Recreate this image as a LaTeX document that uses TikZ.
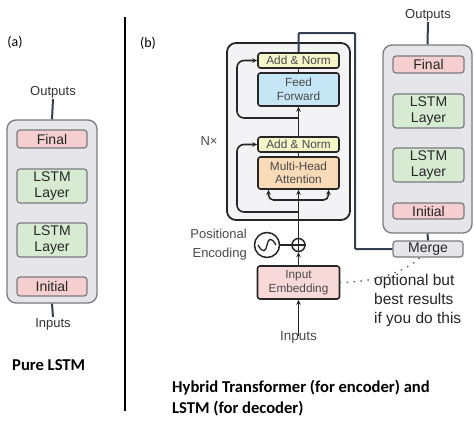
\documentclass[tikz,border=0pt]{standalone}
\usepackage{fontspec}
\setmainfont{Liberation Sans}
\newfontfamily\capfont{Carlito}
\usetikzlibrary{arrows.meta}
\definecolor{pinkf}{HTML}{F5CFCF}
\definecolor{greenf}{HTML}{D7EBD3}
\definecolor{grayf}{HTML}{E6E6EA}
\definecolor{grayb}{HTML}{7A7A80}
\definecolor{trf}{HTML}{F3F3F5}
\definecolor{yelf}{HTML}{F4F5C8}
\definecolor{bluef}{HTML}{C5E6F4}
\definecolor{orf}{HTML}{FADBB8}
\definecolor{embf}{HTML}{F8D9D9}
\definecolor{slate}{HTML}{33414F}
\definecolor{txg}{HTML}{4A4A4A}
\tikzset{
  lbox/.style={draw=grayb, line width=1.2pt, rounded corners=3pt, align=center, inner sep=0pt, font=\fontsize{14}{15.5}\selectfont, text=black!85},
  outerbox/.style={draw=grayb, line width=1.3pt, fill=grayf, rounded corners=9pt, inner sep=0pt},
  tbox/.style={draw=black!85, line width=1.6pt, rounded corners=2.5pt, align=center, inner sep=0pt, font=\fontsize{11.8}{13.5}\selectfont, text=txg},
  lbl/.style={font=\fontsize{13}{15}\selectfont, text=black!80, inner sep=1pt},
  tline/.style={line width=1.6pt, draw=black!85},
  arr/.style={tline, -{Stealth[length=5pt,width=4.5pt]}},
  captext/.style={font=\capfont\bfseries\fontsize{16.6}{20.5}\selectfont, align=left, inner sep=0pt},
}
\begin{document}
\begin{tikzpicture}[x=1pt,y=-1pt]
\useasboundingbox (0,0) rectangle (474,426);
\fill[white] (0,0) rectangle (474,426);
% divider
\coordinate (dtop) at (125,17);
\coordinate (dbot) at (125,411);
\draw[line width=2.6pt] (dtop) -- (dbot);
% panel labels
\node[font=\capfont\fontsize{14}{16}\selectfont, inner sep=0pt] (la) at (15,42) {(a)};
\node[font=\capfont\fontsize{14}{16}\selectfont, inner sep=0pt] (lb) at (148,43) {(b)};
% ---------- panel a ----------
\node[outerbox, minimum width=90pt, minimum height=183pt] (outerA) at (52,211.5) {};
\node[lbox, fill=pinkf, minimum width=70pt, minimum height=18pt] (finA) at (52,139) {Final};
\node[lbox, fill=greenf, minimum width=70pt, minimum height=34pt] (lstmA1) at (52,186) {LSTM\\Layer};
\node[lbox, fill=greenf, minimum width=70pt, minimum height=34pt] (lstmA2) at (52,240) {LSTM\\Layer};
\node[lbox, fill=pinkf, minimum width=70pt, minimum height=19pt] (initA) at (52,286.5) {Initial};
\node[lbl] (outA) at (53,92) {Outputs};
\node[lbl] (inA) at (53,324) {Inputs};
\draw[line width=2pt, draw=slate] (outA.south) -- (outerA.north);
\draw[line width=2pt, draw=slate] (outerA.south) -- (inA.north);
\node[captext, anchor=west] (capA) at (12,365) {Pure LSTM};
% ---------- panel b : transformer ----------
\node[draw=black!85, line width=1.8pt, fill=trf, rounded corners=9pt, minimum width=123pt, minimum height=177pt, inner sep=0pt] (trBox) at (288.5,131.5) {};
\node[tbox, fill=yelf, minimum width=81pt, minimum height=15pt] (an1) at (298.5,60.5) {Add \& Norm};
\node[tbox, fill=bluef, minimum width=81pt, minimum height=33pt] (ff) at (298.5,89.5) {Feed\\Forward};
\node[tbox, fill=yelf, minimum width=81pt, minimum height=15pt] (an2) at (298.5,144.5) {Add \& Norm};
\node[tbox, fill=orf, minimum width=81pt, minimum height=32pt] (mha) at (298.5,173) {Multi-Head\\Attention};
\node[tbox, fill=embf, minimum width=82pt, minimum height=33pt] (emb) at (298.5,282.5) {Input\\Embedding};
\node[draw=black!85, line width=1.5pt, circle, minimum size=13pt, inner sep=0pt] (plus) at (298.5,245) {};
\draw[line width=1.2pt, black!85] (plus.north) -- (plus.south) (plus.west) -- (plus.east);
\node[draw=black!85, line width=1.5pt, circle, minimum size=25pt, inner sep=0pt] (pe) at (267,245) {};
\draw[line width=1.3pt, black!85] ([xshift=-9pt]pe.center) .. controls ([xshift=-4pt,yshift=-9pt]pe.center) and ([xshift=-1pt,yshift=-6pt]pe.center) .. (pe.center) .. controls ([xshift=1pt,yshift=6pt]pe.center) and ([xshift=4pt,yshift=9pt]pe.center) .. ([xshift=9pt]pe.center);
\draw[tline] (pe.east) -- (plus.west);
\node[font=\fontsize{13}{19}\selectfont, text=txg, align=right, anchor=east, inner sep=0pt] (pelbl) at (247,245) {Positional\\Encoding};
\node[font=\fontsize{13}{15}\selectfont, text=txg, inner sep=0pt] (nx) at (209,141) {N×};
\node[font=\fontsize{13.5}{15}\selectfont, text=txg, inner sep=1pt] (inB) at (298.5,337) {Inputs};
% connectors
\draw[arr] ([yshift=-6pt]inB.north) -- (emb.south);
\draw[arr] (emb.north) -- (plus.south);
\coordinate (br) at (298.5,200);
\coordinate (res1) at (298.5,212);
\coordinate (res2) at (298.5,118);
\draw[arr] (plus.north) -- (mha.south);
\draw[arr, rounded corners=5pt] (br) -| ([xshift=-30pt]mha.south);
\draw[arr, rounded corners=5pt] (br) -| ([xshift=30pt]mha.south);
\draw[arr, rounded corners=7pt] (res1) -| (237,144.5) -- (an2.west);
\draw[tline] (mha.north) -- (an2.south);
\draw[arr] (an2.north) -- (ff.south);
\draw[arr, rounded corners=7pt] (res2) -| (237,60.5) -- (an1.west);
\draw[tline] (ff.north) -- (an1.south);
% ---------- right LSTM ----------
\node[outerbox, minimum width=89pt, minimum height=188pt] (outerB) at (427.5,139) {};
\node[lbox, fill=pinkf, minimum width=71pt, minimum height=17pt] (finB) at (428.5,64.5) {Final};
\node[lbox, fill=greenf, minimum width=71pt, minimum height=34pt] (lstmB1) at (428.5,111) {LSTM\\Layer};
\node[lbox, fill=greenf, minimum width=71pt, minimum height=34pt] (lstmB2) at (428.5,165) {LSTM\\Layer};
\node[lbox, fill=pinkf, minimum width=71pt, minimum height=16pt] (initB) at (428.5,211) {Initial};
\node[lbl] (outB) at (428,15) {Outputs};
\node[lbox, fill=grayf, minimum width=70pt, minimum height=16pt] (merge) at (428,249) {Merge};
\draw[line width=2pt, draw=slate] (outB.south) -- (outerB.north);
\draw[line width=2pt, draw=slate] (outerB.south) -- (merge.north);
\draw[line width=2pt, draw=slate, rounded corners=1pt] (an1.north) |- (355,33) |- (merge.west);
% dotted optional
\draw[line width=2pt, line cap=round, dash pattern=on 0pt off 7pt, draw=slate!80] (emb.east) .. controls (375,282) and (405,272) .. ([xshift=-8pt]merge.south);
\node[font=\fontsize{15.5}{19}\selectfont, align=left, anchor=north west, inner sep=0pt, text=black!85] (opt) at (374,274) {optional but\\best results\\if you do this};
\node[captext, anchor=north west] (capB) at (172,380) {Hybrid Transformer (for encoder) and\\LSTM (for decoder)};
\end{tikzpicture}
\end{document}
